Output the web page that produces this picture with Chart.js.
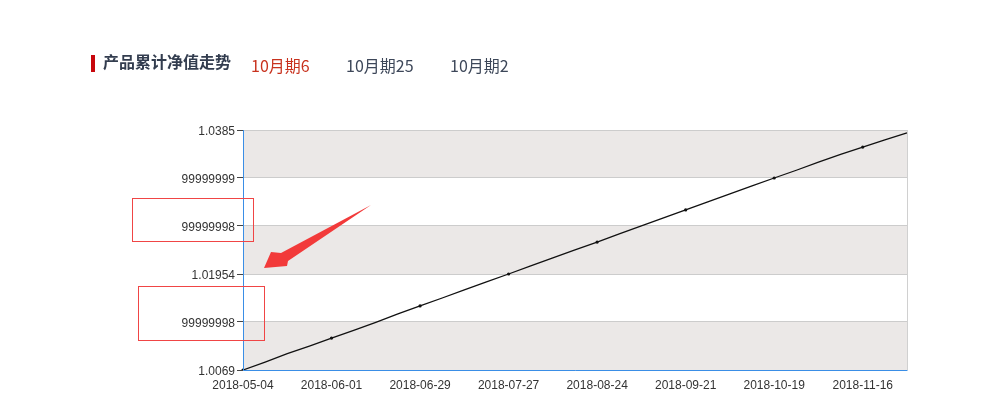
<html>
<head>
<script src="https://cdn.jsdelivr.net/npm/chart.js@4.4.1/dist/chart.umd.min.js"></script>
<style>
    body { margin: 0; background: #fff; width: 1004px; height: 409px; overflow: hidden; position: relative; font-family: "Noto Sans CJK SC", sans-serif; }
    #navChart { position: absolute; left: 0; top: 0; }
    .bar { position: absolute; left: 91px; top: 55px; width: 4px; height: 17px; background: #c8070d; }
    .title { position: absolute; left: 103px; top: 50px; font-size: 16px; font-weight: bold; color: #333d4f; line-height: 22px; }
    .tab { position: absolute; top: 54px; font-size: 16px; color: #3d4759; line-height: 22px; }
    .box { position: absolute; border: 1px solid #f04545; }
    svg { position: absolute; left: 0; top: 0; }
</style>
</head>
<body>
<canvas id="navChart" width="1004" height="409"></canvas>
<div class="bar"></div>
<div class="title">产品累计净值走势</div>
<div class="tab" style="left:251px;color:#c8321e">10月期6</div>
<div class="tab" style="left:346px">10月期25</div>
<div class="tab" style="left:450px">10月期2</div>
<div class="box" style="left:132px;top:198px;width:120px;height:42px"></div>
<div class="box" style="left:138px;top:286px;width:125px;height:53px"></div>
<svg width="1004" height="409">
    <polygon points="371,205 281,253 271,252 264,268 287,266 288,261" fill="#f23a3a"/>
</svg>
<script>
    var dates = ['2018-05-04','2018-05-11','2018-05-18','2018-05-25','2018-06-01','2018-06-08','2018-06-15','2018-06-22',
                 '2018-06-29','2018-07-06','2018-07-13','2018-07-20','2018-07-27','2018-08-03','2018-08-10','2018-08-17',
                 '2018-08-24','2018-08-31','2018-09-07','2018-09-14','2018-09-21','2018-09-28','2018-10-05','2018-10-12',
                 '2018-10-19','2018-10-26','2018-11-02','2018-11-09','2018-11-16','2018-11-23','2018-11-30'];
    var navValues = [1.0069, 1.00795, 1.00905, 1.01005, 1.01111, 1.01212, 1.01318, 1.01428,
                     1.01533, 1.01638, 1.01745, 1.01850, 1.01954, 1.02060, 1.02165, 1.02272,
                     1.02375, 1.02483, 1.02588, 1.02692, 1.02797, 1.02905, 1.03010, 1.03115,
                     1.03218, 1.03320, 1.03426, 1.03530, 1.03625, 1.03720, 1.03812];
    var yTickValues = [1.0069, 1.01322, 1.01954, 1.02586, 1.03218, 1.0385];
    var yTickLabels = ['1.0069', '99999998', '1.01954', '99999998', '99999999', '1.0385'];
    var labelEvery = 4;

    // alternating grey / white bands between the y ticks, plus the edge lines
    var bands = {
        id: 'bands',
        beforeDraw: function (chart) {
            var c = chart.ctx, a = chart.chartArea, y = chart.scales.y;
            c.save();
            for (var i = 0; i < yTickValues.length - 1; i++) {
                if (i % 2 == 0) {
                    var y1 = y.getPixelForValue(yTickValues[i]);
                    var y2 = y.getPixelForValue(yTickValues[i + 1]);
                    c.fillStyle = '#ebe8e7';
                    c.fillRect(a.left, y2, a.right - a.left, y1 - y2);
                }
            }
            c.restore();
        },
        afterDatasetsDraw: function (chart) {
            var c = chart.ctx, a = chart.chartArea;
            var l = Math.round(a.left) + 0.5, r = Math.round(a.right) + 0.5, b = Math.round(a.bottom) + 0.5;
            c.save();
            c.lineWidth = 1;
            c.strokeStyle = '#d0d0d0';
            c.beginPath();
            c.moveTo(r, a.top);
            c.lineTo(r, a.bottom);
            c.stroke();
            c.strokeStyle = '#3a8ee6';
            c.beginPath();
            c.moveTo(l, a.top);
            c.lineTo(l, b);
            c.lineTo(r, b);
            c.stroke();
            c.restore();
        }
    };

    var ctx = document.getElementById('navChart');
    var myChart = new Chart(ctx, {
        type: 'line',
        data: {
            labels: dates,
            datasets: [{
                label: '10月期6',
                data: navValues,
                borderColor: '#111',
                borderWidth: 1.3,
                backgroundColor: '#111',
                tension: 0,
                pointRadius: navValues.map(function (v, i) { return i % labelEvery == 0 ? 1.6 : 0; }),
                pointBorderWidth: 0
            }]
        },
        options: {
            responsive: false,
            animation: false,
            devicePixelRatio: 1,
            layout: { padding: { left: 0, right: 97, top: 130, bottom: 0 } },
            plugins: { legend: { display: false }, tooltip: { enabled: false } },
            scales: {
                x: {
                    offset: false,
                    grid: { display: false, drawTicks: false },
                    border: { display: false },
                    ticks: {
                        autoSkip: false, maxRotation: 0, padding: 8, color: '#333',
                        font: { family: 'Liberation Sans, Arial', size: 12 },
                        callback: function (v, i) { return i % labelEvery == 0 ? dates[i] : null; }
                    },
                    afterFit: function (s) { s.height = 39; }
                },
                y: {
                    min: yTickValues[0],
                    max: yTickValues[yTickValues.length - 1],
                    afterBuildTicks: function (s) {
                        s.ticks = yTickValues.map(function (v) { return { value: v }; });
                    },
                    grid: { color: '#cccccc', tickColor: '#444', tickLength: 6 },
                    border: { display: false },
                    ticks: {
                        padding: 2, color: '#333', labelOffset: 1.5,
                        font: { family: 'Liberation Sans, Arial', size: 12 },
                        callback: function (v, i) { return yTickLabels[i]; }
                    },
                    afterFit: function (s) { s.width = 243; }
                }
            }
        },
        plugins: [bands]
    });
</script>
</body>
</html>
